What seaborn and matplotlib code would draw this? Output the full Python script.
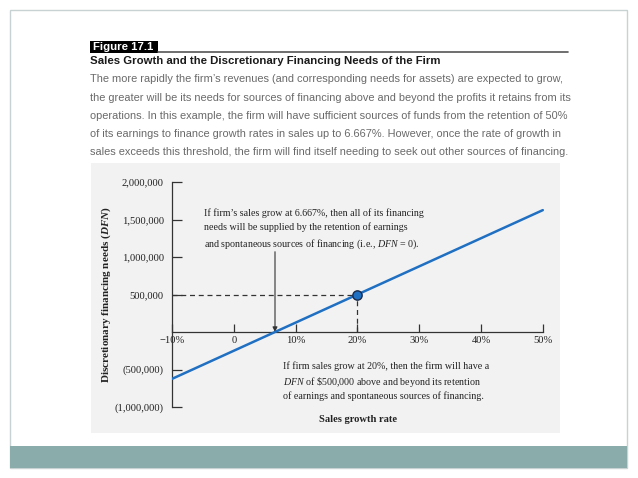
import numpy as np
import pandas as pd
import seaborn as sns
import matplotlib.pyplot as plt
from matplotlib.patches import Rectangle

# data
growth_rate = [-10, 6.667, 20, 50]           # sales growth, %
dfn = [-625000, 0, 500000, 1625000]          # discretionary financing needs
point_growth = [20]
point_dfn = [500000]
arrow_growth = 6.667
xticks = [-10, 0, 10, 20, 30, 40, 50]
xtick_labels = ["\u221210%", "0", "10%", "20%", "30%", "40%", "50%"]
yticks = [-1000000, -500000, 500000, 1000000, 1500000, 2000000]
ytick_labels = ["(1,000,000)", "(500,000)", "500,000", "1,000,000", "1,500,000", "2,000,000"]

sns.set_style("white")
plt.rcParams["font.family"] = ["Liberation Serif", "DejaVu Serif"]
plt.rcParams["mathtext.fontset"] = "custom"
plt.rcParams["mathtext.rm"] = "Liberation Serif"
plt.rcParams["mathtext.it"] = "Liberation Serif:italic"
plt.rcParams["mathtext.bf"] = "Liberation Serif:bold"
plt.rcParams["mathtext.bfit"] = "Liberation Serif:italic:bold"

W, H = 638, 478
fig = plt.figure(figsize=(W / 100, H / 100), dpi=100)


def fx(px):
    return px / W


def fy(py):
    return 1 - py / H


# slide frame and teal band
fig.patches.append(Rectangle((fx(10), fy(468)), fx(617), (458) / H, transform=fig.transFigure,
                             facecolor="white", edgecolor="#c8d2d2", lw=1.0, zorder=-3))
fig.patches.append(Rectangle((fx(10), fy(468)), fx(617), 22 / H, transform=fig.transFigure,
                             facecolor="#8aacab", edgecolor="none", zorder=-2))
# grey panel behind the chart
fig.patches.append(Rectangle((fx(91), fy(433)), fx(469), 270 / H, transform=fig.transFigure,
                             facecolor="#f2f2f2", edgecolor="none", zorder=-2))

# figure label and rule
fig.patches.append(Rectangle((fx(90), fy(53)), fx(68), 12 / H, transform=fig.transFigure,
                             facecolor="black", edgecolor="none", zorder=-1))
fig.add_artist(plt.Line2D([fx(158), fx(568)], [fy(52.5), fy(52.5)], transform=fig.transFigure,
                          color="#555555", lw=1.2))
sans = ["Liberation Sans", "DejaVu Sans"]
fig.text(fx(93), fy(47.5), "Figure 17.1", color="white", fontsize=8.2, fontweight="bold",
         family=sans, va="center", ha="left", zorder=3)
fig.text(fx(90), fy(61), "Sales Growth and the Discretionary Financing Needs of the Firm",
         fontsize=8.2, fontweight="bold", family=sans, va="center", ha="left", color="#1a1a1a")
body = ("The more rapidly the firm\u2019s revenues (and corresponding needs for assets) are expected to grow,\n"
        "the greater will be its needs for sources of financing above and beyond the profits it retains from its\n"
        "operations. In this example, the firm will have sufficient sources of funds from the retention of 50%\n"
        "of its earnings to finance growth rates in sales up to 6.667%. However, once the rate of growth in\n"
        "sales exceeds this threshold, the firm will find itself needing to seek out other sources of financing.")
fig.text(fx(90), fy(74.5), body, fontsize=7.9, family=sans, va="top", ha="left",
         color="#6a6a6a", linespacing=2.02)

# chart axes, positioned so that data lines up with the picture
x0, x1 = -10, 55
y0, y1 = -1100000, 2100000
left_px = 172
right_px = left_px + (x1 - x0) * 6.18
top_px = 332 - y1 / 500000 * 37.5
bot_px = 332 - y0 / 500000 * 37.5
ax = fig.add_axes([fx(left_px), fy(bot_px), fx(right_px - left_px), (bot_px - top_px) / H])
ax.set_facecolor("none")
ax.set_zorder(2)
ax.set_xlim(x0, x1)
ax.set_ylim(y0, y1)

df = pd.DataFrame({"growth": growth_rate, "dfn": dfn})
sns.lineplot(data=df, x="growth", y="dfn", ax=ax, color="#1f6fc2", lw=1.8, zorder=3)
ax.plot([x0, point_growth[0]], [point_dfn[0], point_dfn[0]], color="#333333", lw=0.9,
        dashes=(4, 3), zorder=2)
ax.plot([point_growth[0], point_growth[0]], [0, point_dfn[0]], color="#333333", lw=0.9,
        dashes=(4, 3), zorder=2)
sns.scatterplot(x=point_growth, y=point_dfn, ax=ax, s=45, color="#1f6fc2",
                edgecolor="#1b2a4a", linewidth=1.0, zorder=4)

ax.annotate("", xy=(arrow_growth, 0), xytext=(arrow_growth, 1070000),
            arrowprops=dict(arrowstyle="-|>", color="#333333", lw=0.8, mutation_scale=7,
                            shrinkA=0, shrinkB=0), zorder=2)

# spines cross at (-10%, 0)
for s in ["top", "right"]:
    ax.spines[s].set_visible(False)
ax.spines["left"].set_position(("data", x0))
ax.spines["left"].set_bounds(-1000000, 2000000)
ax.spines["bottom"].set_position(("data", 0))
ax.spines["bottom"].set_bounds(-10, 50)
for s in ["left", "bottom"]:
    ax.spines[s].set_color("#333333")
    ax.spines[s].set_linewidth(0.9)

ax.set_xticks(xticks)
ax.set_xticklabels(xtick_labels)
ax.set_yticks(yticks)
ax.set_yticklabels(ytick_labels)
ax.tick_params(axis="x", bottom=True, direction="in", length=6, width=0.9, color="#333333",
               labelsize=7.6, pad=3, labelcolor="#222222")
ax.tick_params(axis="y", left=True, direction="in", length=7, width=0.9, color="#333333",
               labelsize=7.6, pad=6, labelcolor="#222222")
ax.get_xticklabels()[5].set_y(-0.012)
ax.set_xlabel("")
ax.set_ylabel("")

fig.text(fx(106), fy(295), r"Discretionary financing needs ($\mathbfit{DFN}$)", rotation=90,
         fontsize=8.0, fontweight="bold", va="center", ha="center", color="#222222")
fig.text(fx(358), fy(420), "Sales growth rate", fontsize=7.6, fontweight="bold",
         va="center", ha="center", color="#222222")

note1 = ("If firm\u2019s sales grow at 6.667%, then all of its financing\n"
         "needs will be supplied by the retention of earnings\n"
         "and spontaneous sources of financing (i.e., $\\mathit{DFN}$ = 0).")
fig.text(fx(204), fy(208.5), note1, fontsize=7.2, va="top", ha="left", color="#222222",
         linespacing=1.55)
note2 = ("If firm sales grow at 20%, then the firm will have a\n"
         "$\\mathit{DFN}$ of \\$500,000 above and beyond its retention\n"
         "of earnings and spontaneous sources of financing.")
fig.text(fx(283), fy(361.5), note2, fontsize=7.2, va="top", ha="left",
         color="#222222", linespacing=1.35)

fig.savefig("out.png", dpi=100)
